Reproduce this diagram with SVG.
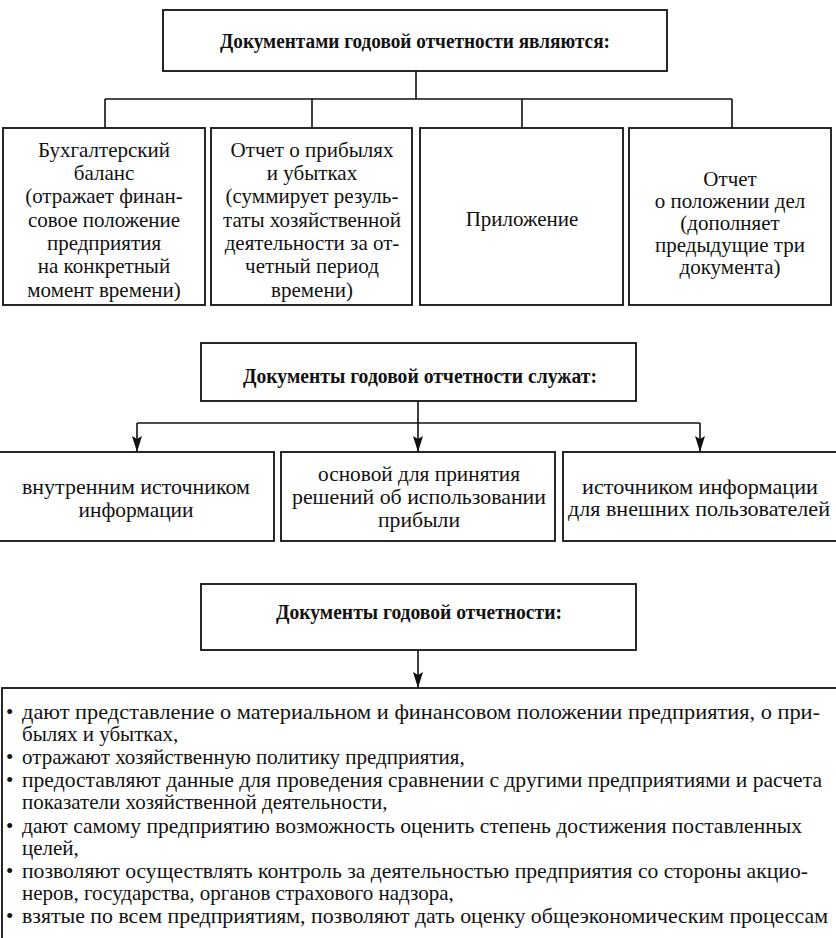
<svg xmlns="http://www.w3.org/2000/svg" width="836" height="938" viewBox="0 0 836 938">
<style>
.box{fill:#fff;stroke:#111;stroke-width:1.8}
.ln{fill:none;stroke:#111;stroke-width:1.6}
.h{font-family:"Liberation Serif","DejaVu Serif","Times New Roman",serif;font-weight:bold;font-size:20px;fill:#111;text-anchor:middle}
.t{font-family:"Liberation Serif","DejaVu Serif","Times New Roman",serif;font-size:21px;fill:#111;text-anchor:middle}
.l{font-family:"Liberation Serif","DejaVu Serif","Times New Roman",serif;font-size:21px;fill:#111}
</style>
<defs>
<marker id="arr" markerWidth="16" markerHeight="10" refX="16" refY="5" orient="auto" markerUnits="userSpaceOnUse" viewBox="0 0 16 10">
<path d="M0,0 L3,5 L0,10 L16,5 Z" fill="#111"/>
</marker>
</defs>
<g id="connectors">
<path class="ln" d="M416,71 V99 M105,99 H732 M105,99 V128 M312,99 V128 M522,99 V128 M732,99 V128"/>
<path class="ln" d="M137,423 H700"/>
<path class="ln" d="M418,401 V452" marker-end="url(#arr)"/>
<path class="ln" d="M137,423 V452" marker-end="url(#arr)"/>
<path class="ln" d="M700,423 V452" marker-end="url(#arr)"/>
<path class="ln" d="M418,650 V688" marker-end="url(#arr)"/>
</g>
<g id="header1">
<rect class="box" x="163" y="10" width="504" height="61"/>
<text class="h" x="415" y="48" textLength="390" lengthAdjust="spacingAndGlyphs">Документами годовой отчетности являются:</text>
</g>
<g id="node-balance">
<rect class="box" x="3" y="128" width="202" height="177"/>
<text class="t" x="104" y="157">Бухгалтерский</text>
<text class="t" x="104" y="180">баланс</text>
<text class="t" x="104" y="203">(отражает финан-</text>
<text class="t" x="104" y="227">совое положение</text>
<text class="t" x="104" y="250">предприятия</text>
<text class="t" x="104" y="273">на конкретный</text>
<text class="t" x="104" y="297">момент времени)</text>
</g>
<g id="node-profit">
<rect class="box" x="211" y="128" width="201" height="177"/>
<text class="t" x="312" y="157">Отчет о прибылях</text>
<text class="t" x="312" y="180">и убытках</text>
<text class="t" x="312" y="203">(суммирует резуль-</text>
<text class="t" x="312" y="227">таты хозяйственной</text>
<text class="t" x="312" y="250">деятельности за от-</text>
<text class="t" x="312" y="273">четный период</text>
<text class="t" x="312" y="297">времени)</text>
</g>
<g id="node-appendix">
<rect class="box" x="420" y="128" width="203" height="177"/>
<text class="t" x="522" y="226">Приложение</text>
</g>
<g id="node-report">
<rect class="box" x="629" y="128" width="202" height="177"/>
<text class="t" x="730" y="186">Отчет</text>
<text class="t" x="730" y="208">о положении дел</text>
<text class="t" x="730" y="230">(дополняет</text>
<text class="t" x="730" y="252">предыдущие три</text>
<text class="t" x="730" y="274">документа)</text>
</g>
<g id="header2">
<rect class="box" x="201" y="343" width="435" height="58"/>
<text class="h" x="420" y="383" textLength="354" lengthAdjust="spacingAndGlyphs">Документы годовой отчетности служат:</text>
</g>
<g id="node-internal">
<rect class="box" x="-2" y="452" width="276" height="89"/>
<text class="t" x="136" y="494" textLength="228" lengthAdjust="spacingAndGlyphs">внутренним источником</text>
<text class="t" x="136" y="517" textLength="115" lengthAdjust="spacingAndGlyphs">информации</text>
</g>
<g id="node-basis">
<rect class="box" x="281" y="452" width="274" height="89"/>
<text class="t" x="419" y="481" textLength="202" lengthAdjust="spacingAndGlyphs">основой для принятия</text>
<text class="t" x="419" y="504" textLength="254" lengthAdjust="spacingAndGlyphs">решений об использовании</text>
<text class="t" x="419" y="527" textLength="82" lengthAdjust="spacingAndGlyphs">прибыли</text>
</g>
<g id="node-external">
<rect class="box" x="563" y="452" width="276" height="89"/>
<text class="t" x="700" y="494" textLength="236" lengthAdjust="spacingAndGlyphs">источником информации</text>
<text class="t" x="699" y="516" textLength="262" lengthAdjust="spacingAndGlyphs">для внешних пользователей</text>
</g>
<g id="header3">
<rect class="box" x="201" y="584" width="435" height="66"/>
<text class="h" x="419" y="619" textLength="286" lengthAdjust="spacingAndGlyphs">Документы годовой отчетности:</text>
</g>
<g id="node-list">
<rect class="box" x="2" y="688" width="840" height="270"/>
<text class="l" x="6" y="719">•</text>
<text class="l" x="22" y="719" textLength="798" lengthAdjust="spacingAndGlyphs">дают представление о материальном и финансовом положении предприятия, о при-</text>
<text class="l" x="22" y="741">былях и убытках,</text>
<text class="l" x="6" y="764">•</text>
<text class="l" x="22" y="764">отражают хозяйственную политику предприятия,</text>
<text class="l" x="6" y="787">•</text>
<text class="l" x="22" y="787" textLength="800" lengthAdjust="spacingAndGlyphs">предоставляют данные для проведения сравнении с другими предприятиями и расчета</text>
<text class="l" x="22" y="809">показатели хозяйственной деятельности,</text>
<text class="l" x="6" y="833">•</text>
<text class="l" x="22" y="833" textLength="780" lengthAdjust="spacingAndGlyphs">дают самому предприятию возможность оценить степень достижения поставленных</text>
<text class="l" x="22" y="855">целей,</text>
<text class="l" x="6" y="878">•</text>
<text class="l" x="22" y="878" textLength="786" lengthAdjust="spacingAndGlyphs">позволяют осуществлять контроль за деятельностью предприятия со стороны акцио-</text>
<text class="l" x="22" y="900">неров, государства, органов страхового надзора,</text>
<text class="l" x="6" y="923">•</text>
<text class="l" x="22" y="923" textLength="806" lengthAdjust="spacingAndGlyphs">взятые по всем предприятиям, позволяют дать оценку общеэкономическим процессам</text>
</g>
</svg>
